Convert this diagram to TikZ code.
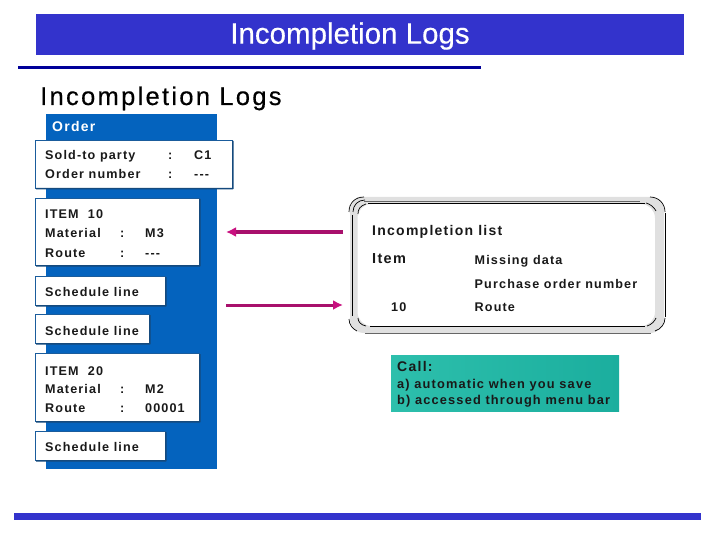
\documentclass[tikz,border=0pt]{standalone}
\usepackage{fontspec}
\setmainfont{Liberation Sans}
\usetikzlibrary{arrows.meta}
\newfontfamily\lsb[LetterSpace=9]{Liberation Sans}
\newfontfamily\lsr[LetterSpace=9,FakeBold=0.4]{Liberation Sans}
\newfontfamily\ttl[FakeBold=0.3]{Liberation Sans}
\definecolor{bandblue}{HTML}{3333CC}
\definecolor{ruleblue}{HTML}{000099}
\definecolor{panelblue}{HTML}{0463BE}
\definecolor{edgeblue}{HTML}{1A5C9C}
\definecolor{arrowred}{HTML}{A8106C}
\definecolor{arrowhead}{HTML}{C8107F}
\definecolor{tealA}{HTML}{2DBFAC}
\definecolor{tealB}{HTML}{1BAE9E}
\definecolor{framegray}{HTML}{E0E0E0}
\tikzset{
  x=1pt,y=-1pt,
  whitebox/.style={draw=edgeblue,line width=1pt,fill=white,inner sep=0pt,anchor=north west},
  lbl/.style={inner sep=0pt,anchor=base west,font=\lsb\bfseries\fontsize{12.6}{14}\selectfont,text=black!90},
  lnk/.style={draw=arrowred,line width=3pt,-{Latex[length=10pt,width=10pt,color=arrowhead]}},
  corner/.style={black,line width=0.7pt},
  edge/.style={black,line width=1pt}
}
\newcommand{\bx}[5]{\node[whitebox,minimum width=#3pt,minimum height=#4pt] (#5) at (#1,#2) {};
\fill[edgeblue!80!black] (#1+1,#2+#4) rectangle (#1+#3+1,#2+#4+1.5) (#1+#3,#2+1) rectangle (#1+#3+1.5,#2+#4+1);}
\newcommand{\tx}[4]{\node[lbl] (#1) at (#2,#3) {#4};}
\begin{document}
\begin{tikzpicture}
\useasboundingbox (0,0) rectangle (720,540);
\fill[white] (0,0) rectangle (720,540);
% header
\node[fill=bandblue,minimum width=648pt,minimum height=41pt,inner sep=0pt,anchor=north west] (band) at (36,14) {};
\node[inner sep=0pt,text=white,font=\ttl\fontsize{29.5}{34}\selectfont] (title) at (350,36) {Incompletion Logs};
\fill[ruleblue] (18,66) rectangle (481,69);
\node[inner sep=0pt,anchor=base west,font=\lsr\fontsize{25.5}{30}\selectfont] (head) at (40,105) {Incompletion Logs};
\fill[bandblue] (14,513) rectangle (701,520);
% panel
\node[fill=panelblue,minimum width=171.5pt,minimum height=355pt,inner sep=0pt,anchor=north west] (panel) at (45.5,114) {};
\node[lbl,text=white,font=\lsb\bfseries\fontsize{14}{16}\selectfont] (ordert) at (52,132) {Order};
\bx{35}{140}{197}{48}{orderbox}
\bx{35}{198}{164}{67}{item1}
\bx{35}{276}{130}{29}{sched1}
\bx{35}{314}{114}{29}{sched2}
\bx{35}{353}{164}{68}{item2}
\bx{35}{431}{130}{29}{sched3}
\tx{a1}{45}{160}{Sold-to party}
\tx{a2}{168}{160}{:}
\tx{a3}{194}{160}{C1}
\tx{b1}{45}{179}{Order number}
\tx{b2}{168}{179}{:}
\tx{b3}{194}{179}{---}
\tx{c1}{45}{218.5}{ITEM\ \ 10}
\tx{c2}{45}{237.5}{Material}
\tx{c3}{120}{237.5}{:}
\tx{c4}{145}{237.5}{M3}
\tx{c5}{45}{257}{Route}
\tx{c6}{120}{257}{:}
\tx{c7}{145}{257}{---}
\tx{d1}{45}{296}{Schedule line}
\tx{d2}{45}{335}{Schedule line}
\tx{e1}{45}{375}{ITEM\ \ 20}
\tx{e2}{45}{393}{Material}
\tx{e3}{120}{393}{:}
\tx{e4}{145}{393}{M2}
\tx{e5}{45}{412}{Route}
\tx{e6}{120}{412}{:}
\tx{e7}{145}{412}{00001}
\tx{d3}{45}{451}{Schedule line}
% incompletion frame
\fill[framegray,even odd rule,rounded corners=14pt] (350,197) rectangle (664,333) (357.5,204) rectangle (655,326);
\node[inner sep=0pt,minimum width=297pt,minimum height=122pt,anchor=north west] (frame) at (357.5,204) {};
\draw[edge] (368,204) -- (645,204);
\draw[edge] (370,326) -- (645,326);
\draw[edge] (352.5,215) -- (352.5,316);
\draw[edge] (665,213) -- (665,317);
\draw[black!60,line width=0.6pt] (364,201) -- (640,201);
\draw[black!60,line width=0.6pt] (365,333) -- (651,333);
\draw[corner] (349,212) .. controls (349,203) and (355,197) .. (364,197);
\draw[corner] (353,212) .. controls (353,205) and (358,200) .. (365,200);
\draw[corner] (358,214) .. controls (358,209) and (360,206) .. (366,204);
\draw[corner] (349,319) .. controls (349,325) and (353,329) .. (357,331);
\draw[corner] (358,318) .. controls (358,322) and (361,325) .. (366,326);
\draw[corner] (650,197) .. controls (658,197) and (665,203) .. (665,212);
\draw[corner] (646,203) .. controls (650,204) and (654,207) .. (656,211);
\draw[corner] (665,318) .. controls (665,324) and (661,329) .. (655,331);
\draw[corner] (656,318) .. controls (655,321) and (651,325) .. (647,326);
\tx{f1}{372}{236}{\fontsize{14}{16}\selectfont Incompletion list}
\node[lbl,font=\lsb\bfseries\fontsize{14.5}{16}\selectfont] (f1b) at (372,263) {Item};
\tx{f2}{474.5}{264}{Missing data}
\tx{f3}{474.5}{288}{Purchase order number}
\tx{f4}{391}{311}{10}
\tx{f5}{474.5}{311}{Route}
% arrows
\coordinate (p1) at (343,232);
\coordinate (q1) at (226,232);
\coordinate (p2) at (226,305);
\coordinate (q2) at (343,305);
\draw[lnk] (p1) -- (q1);
\draw[lnk] (p2) -- (q2);
% call box
\node[left color=tealA,right color=tealB,minimum width=228pt,minimum height=56pt,inner sep=0pt,anchor=north west] (call) at (391,355) {};
\node[lbl,font=\lsb\bfseries\fontsize{14}{16}\selectfont] (g1) at (397,371.5) {Call:};
\tx{g2}{397}{388.5}{\fontsize{12.8}{15}\selectfont a) automatic when you save}
\tx{g3}{397}{404}{\fontsize{12.8}{15}\selectfont b) accessed through menu bar}
\end{tikzpicture}
\end{document}
